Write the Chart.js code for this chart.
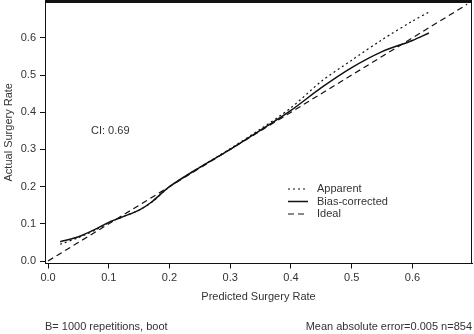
<!DOCTYPE html>
<html>
<head>
<meta charset="utf-8">
<script src="https://cdn.jsdelivr.net/npm/chart.js@4"></script>
<style>
  html, body { margin: 0; padding: 0; background: #fff; }
  #wrap { width: 474px; height: 334px; }
</style>
</head>
<body>
<div id="wrap"><canvas id="calib" width="474" height="334"></canvas></div>
<script>
// calibration curves
const predX = [0.02, 0.05, 0.08, 0.1, 0.12, 0.15, 0.17, 0.2, 0.25, 0.3, 0.35, 0.4, 0.45, 0.5, 0.55, 0.6, 0.627];
const apparent = [0.045, 0.063, 0.085, 0.103, 0.117, 0.137, 0.157, 0.2, 0.252, 0.302, 0.355, 0.412, 0.483, 0.54, 0.595, 0.645, 0.669];
const biasCorrected = [0.052, 0.065, 0.087, 0.104, 0.117, 0.137, 0.158, 0.2, 0.252, 0.3, 0.352, 0.405, 0.466, 0.52, 0.563, 0.593, 0.613];
const idealX = [0, 0.69];
const idealY = [0, 0.69];
const xTicks = [0, 0.1, 0.2, 0.3, 0.4, 0.5, 0.6];
const yTicks = [0, 0.1, 0.2, 0.3, 0.4, 0.5, 0.6];
const seriesNames = ['Apparent', 'Bias-corrected', 'Ideal'];

const FONT = "'Liberation Sans', Arial, sans-serif";
const toPts = (xs, ys) => xs.map((x, i) => ({ x: x, y: ys[i] }));

// frame, labels and legend
const extras = {
  id: 'extras',
  afterDraw(chart) {
    const ctx = chart.ctx;
    const a = chart.chartArea;
    ctx.save();
    ctx.strokeStyle = '#111';
    ctx.lineWidth = 1;
    ctx.beginPath();
    ctx.moveTo(a.right - 0.5, a.top);
    ctx.lineTo(a.right - 0.5, a.bottom);
    ctx.stroke();
    ctx.lineWidth = 3;
    ctx.beginPath();
    ctx.moveTo(a.left, a.top + 0.5);
    ctx.lineTo(a.right, a.top + 0.5);
    ctx.stroke();

    ctx.fillStyle = '#333';
    ctx.font = '11px ' + FONT;
    ctx.textBaseline = 'middle';
    ctx.textAlign = 'left';
    ctx.fillText('CI: 0.69', 91, 131);

    // legend
    chart.data.datasets.forEach((ds, i) => {
      const y = 189 + i * 12.5;
      ctx.strokeStyle = '#111';
      ctx.lineWidth = ds.borderWidth;
      ctx.setLineDash(ds.borderDash || []);
      ctx.beginPath();
      ctx.moveTo(288, y);
      ctx.lineTo(308, y);
      ctx.stroke();
      ctx.setLineDash([]);
      ctx.fillText(ds.label, 317, y);
    });

    ctx.textAlign = 'center';
    ctx.fillText('Predicted Surgery Rate', (a.left + a.right) / 2, 297);
    ctx.save();
    ctx.translate(9, (a.top + a.bottom) / 2);
    ctx.rotate(-Math.PI / 2);
    ctx.fillText('Actual Surgery Rate', 0, 0);
    ctx.restore();

    ctx.textAlign = 'left';
    ctx.fillText('B= 1000 repetitions, boot', 45, 327);
    ctx.textAlign = 'right';
    ctx.fillText('Mean absolute error=0.005 n=854', 472, 327);
    ctx.restore();
  }
};

new Chart(document.getElementById('calib'), {
  type: 'scatter',
  data: {
    datasets: [
      { label: seriesNames[0], data: toPts(predX, apparent), showLine: true, borderColor: '#111', borderWidth: 1.2, borderDash: [2, 3], pointRadius: 0, tension: 0.3 },
      { label: seriesNames[1], data: toPts(predX, biasCorrected), showLine: true, borderColor: '#111', borderWidth: 1.5, pointRadius: 0, tension: 0.3 },
      { label: seriesNames[2], data: toPts(idealX, idealY), showLine: true, borderColor: '#111', borderWidth: 1.2, borderDash: [6, 4], pointRadius: 0 }
    ]
  },
  options: {
    responsive: false,
    animation: false,
    layout: { padding: { top: 1, right: 2, left: 0, bottom: 0 } },
    plugins: { legend: { display: false }, tooltip: { enabled: false } },
    scales: {
      x: {
        type: 'linear', min: -0.005, max: 0.698,
        afterFit: s => { s.height = 70.5; s.paddingLeft = 0; s.paddingRight = 0; },
        afterBuildTicks: s => { s.ticks = xTicks.map(v => ({ value: v })); },
        grid: { drawOnChartArea: false, drawTicks: true, tickLength: 5, color: '#111' },
        border: { color: '#111', width: 1 },
        ticks: { color: '#333', font: { family: FONT, size: 11 }, padding: 3, maxRotation: 0, callback: v => v.toFixed(1) }
      },
      y: {
        type: 'linear', min: -0.0067, max: 0.699,
        afterFit: s => { s.width = 45; s.paddingTop = 0; s.paddingBottom = 0; },
        afterBuildTicks: s => { s.ticks = yTicks.map(v => ({ value: v })); },
        grid: { drawOnChartArea: false, drawTicks: true, tickLength: 5, color: '#111' },
        border: { color: '#111', width: 1 },
        ticks: { color: '#333', font: { family: FONT, size: 11 }, padding: 4, callback: v => v.toFixed(1) }
      }
    }
  },
  plugins: [extras]
});
</script>
</body>
</html>
